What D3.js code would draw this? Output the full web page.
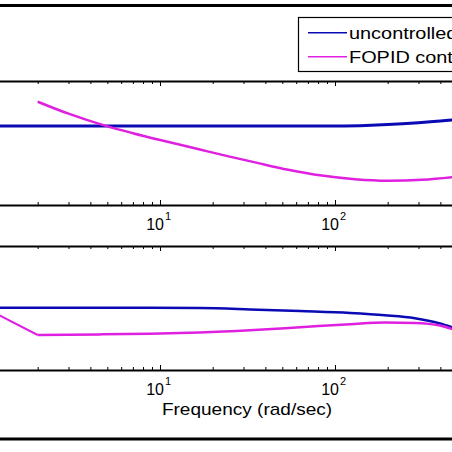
<!DOCTYPE html>
<html>
<head>
<meta charset="utf-8">
<script src="https://cdn.jsdelivr.net/npm/d3@7"></script>
<style>
  html, body { margin: 0; padding: 0; background: #fff; }
  svg { display: block; font-family: "Liberation Sans", Arial, sans-serif; }
</style>
</head>
<body>
<script>
// ---- data ----
const seriesNames = ["uncontrolled", "FOPID controlled"];
const seriesColors = ["#0a0ab4", "#e020e0"];

// magnitude panel (dB)
const uncMagFreq = [1, 10, 30, 63, 100, 150, 200, 300, 400, 467, 500];
const uncMag     = [0, 0, 0, 0.02, 0.09, 0.31, 0.66, 1.46, 2.21, 2.70, 2.92];
const fopidMagFreq = [2, 3, 4.85, 7, 10.9, 16.9, 25, 35, 54, 84, 130, 200, 315, 470, 500];
const fopidMag     = [10.82, 5.50, 0.22, -3.15, -6.86, -10.40, -13.53, -16.10, -19.36, -21.94, -23.56, -24.22, -23.78, -22.62, -22.40];

// phase panel (deg)
const uncPhaseFreq = [1, 4.5, 8.8, 16.9, 32.7, 63, 122, 193, 286, 398, 467, 500];
const uncPhase     = [-89.6, -89.6, -89.6, -90.0, -92.0, -94.5, -97.3, -100.5, -104.8, -112.5, -118.0, -120.5];
const fopidPhaseFreq = [1, 2, 4.54, 8.77, 16.9, 32.7, 63.1, 121.8, 193, 286, 398, 467, 500];
const fopidPhase     = [-89.7, -129.2, -128.3, -127.2, -125.4, -122.2, -117.9, -113.5, -110.9, -111.6, -115.3, -120.5, -123.4];

// axis ticks
const majorTicks = [1, 10, 100, 1000];
const minorTicks = [2,3,4,5,6,7,8,9,20,30,40,50,60,70,80,90,200,300,400,500,600,700,800,900];
const tickLabelBase = ["10", "10"];
const tickLabelExp  = ["1", "2"];
const tickLabelVals = [10, 100];
const xLabel = "Frequency (rad/sec)";

// ---- layout ----
const W = 452, H = 452;
const svg = d3.select("body").append("svg").attr("width", W).attr("height", H);

const x = d3.scaleLog().domain([1, 1000]).range([-15, 510]);
const magPanel = { top: 81, bottom: 205 };
const phPanel  = { top: 246, bottom: 370 };
const yMag = d3.scaleLinear().domain([-35, 20]).range([magPanel.bottom, magPanel.top]);
const yPh  = d3.scaleLinear().domain([-180, 0]).range([phPanel.bottom, phPanel.top]);

// figure frame lines
svg.append("line").attr("x1", 0).attr("x2", W).attr("y1", 5.5).attr("y2", 5.5)
  .attr("stroke", "#000").attr("stroke-width", 3);
svg.append("line").attr("x1", 0).attr("x2", W).attr("y1", 439).attr("y2", 439)
  .attr("stroke", "#000").attr("stroke-width", 3);

function drawAxes(panel, withLabels) {
  const gTop = svg.append("g").attr("transform", `translate(0,${panel.top})`);
  gTop.call(d3.axisTop(x).tickValues(majorTicks).tickSize(-5).tickSizeOuter(0).tickFormat(""));
  gTop.append("g").call(d3.axisTop(x).tickValues(minorTicks).tickSize(-3).tickSizeOuter(0).tickFormat(""))
    .select(".domain").remove();
  const gBot = svg.append("g").attr("transform", `translate(0,${panel.bottom})`);
  gBot.call(d3.axisBottom(x).tickValues(majorTicks).tickSize(-5).tickSizeOuter(0).tickFormat(""));
  gBot.append("g").call(d3.axisBottom(x).tickValues(minorTicks).tickSize(-3).tickSizeOuter(0).tickFormat(""))
    .select(".domain").remove();
  [gTop, gBot].forEach(g => {
    g.selectAll(".domain").attr("stroke", "#000").attr("stroke-width", 2);
    g.selectAll(".tick line").attr("stroke", "#000").attr("stroke-width", 1);
  });
  if (withLabels) {
    tickLabelVals.forEach((v, i) => {
      const tx = x(v);
      svg.append("text").attr("x", tx + 4).attr("y", panel.bottom + 25)
        .attr("text-anchor", "end").attr("font-size", 16).attr("fill", "#000")
        .text(tickLabelBase[i]);
      svg.append("text").attr("x", tx + 5).attr("y", panel.bottom + 15)
        .attr("text-anchor", "start").attr("font-size", 11).attr("fill", "#000")
        .text(tickLabelExp[i]);
    });
  }
}
drawAxes(magPanel, true);
drawAxes(phPanel, true);

const defs = svg.append("defs");
defs.append("clipPath").attr("id", "clipMag").append("rect")
  .attr("x", 0).attr("y", magPanel.top).attr("width", W).attr("height", magPanel.bottom - magPanel.top);
defs.append("clipPath").attr("id", "clipPh").append("rect")
  .attr("x", 0).attr("y", phPanel.top).attr("width", W).attr("height", phPanel.bottom - phPanel.top);

function drawLine(freqs, vals, yScale, color, clip, width, curve) {
  const pts = freqs.map((f, i) => [f, vals[i]]);
  const line = d3.line().x(d => x(d[0])).y(d => yScale(d[1])).curve(curve || d3.curveMonotoneX);
  svg.append("path").datum(pts).attr("d", line)
    .attr("fill", "none").attr("stroke", color).attr("stroke-width", width)
    .attr("stroke-linejoin", "round").attr("clip-path", `url(#${clip})`);
}

drawLine(uncMagFreq, uncMag, yMag, seriesColors[0], "clipMag", 3);
drawLine(fopidMagFreq, fopidMag, yMag, seriesColors[1], "clipMag", 2.5);
drawLine(uncPhaseFreq, uncPhase, yPh, seriesColors[0], "clipPh", 2.5);
drawLine(fopidPhaseFreq.slice(0, 2), fopidPhase.slice(0, 2), yPh, seriesColors[1], "clipPh", 2, d3.curveLinear);
drawLine(fopidPhaseFreq.slice(1), fopidPhase.slice(1), yPh, seriesColors[1], "clipPh", 2.5);

// x label
svg.append("text").attr("transform", "translate(247,414.5) scale(1.12,1)")
  .attr("text-anchor", "middle").attr("font-size", 17).attr("fill", "#000").text(xLabel);

// legend
const lg = svg.append("g");
lg.append("rect").attr("x", 298.5).attr("y", 17.5).attr("width", 200).attr("height", 54)
  .attr("fill", "#fff").attr("stroke", "#000").attr("stroke-width", 1.2);
seriesNames.forEach((name, i) => {
  const yy = 32.7 + i * 24;
  lg.append("line").attr("x1", 308).attr("x2", 347).attr("y1", yy).attr("y2", yy)
    .attr("stroke", seriesColors[i]).attr("stroke-width", 1.5);
  lg.append("text").attr("transform", `translate(349,${yy + 6.5}) scale(1.17,1)`)
    .attr("font-size", 17).attr("fill", "#000").text(name);
});
</script>
</body>
</html>
